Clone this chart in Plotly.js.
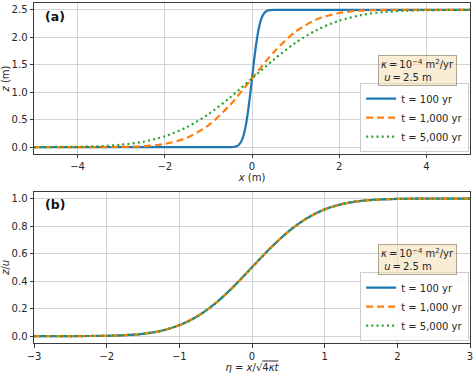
<!DOCTYPE html>
<html>
<head>
<meta charset="utf-8">
<script src="https://cdn.plot.ly/plotly-3.0.1.min.js"></script>
<style>html,body{margin:0;padding:0;background:#fff;}#chart{width:474px;height:375px;}</style>
</head>
<body>
<div id="chart"></div>
<script>
// ---- Data ----
const seriesNames = ["t = 100 yr", "t = 1,000 yr", "t = 5,000 yr"];

// Panel (a): z (m) versus x (m)
const x100 = [-5, -1, -0.6, -0.5, -0.4, -0.35, -0.3, -0.25, -0.2, -0.15, -0.1, -0.05, 0, 0.05, 0.1, 0.15, 0.2, 0.25, 0.3, 0.35, 0.4, 0.5, 0.6, 1, 5];
const z100 = [0, 0, 0, 0.0005, 0.006, 0.0166, 0.042, 0.096, 0.197, 0.361, 0.599, 0.905, 1.25, 1.595, 1.901, 2.139, 2.303, 2.404, 2.458, 2.483, 2.494, 2.4995, 2.5, 2.5, 2.5];
const x1000 = [-5, -4, -3.5, -3, -2.5, -2, -1.5, -1, -0.5, 0, 0.5, 1, 1.5, 2, 2.5, 3, 3.5, 4, 5];
const z1000 = [0, 0.0001, 0.0006, 0.0034, 0.0152, 0.0569, 0.167, 0.397, 0.771, 1.25, 1.729, 2.103, 2.333, 2.443, 2.485, 2.497, 2.4994, 2.4999, 2.5];
const x5000 = [-5, -4, -3.5, -3, -2.5, -2, -1.5, -1, -0.5, 0, 0.5, 1, 1.5, 2, 2.5, 3, 3.5, 4, 5];
const z5000 = [0.0005, 0.0058, 0.0166, 0.0424, 0.0964, 0.197, 0.361, 0.599, 0.905, 1.25, 1.595, 1.901, 2.139, 2.303, 2.404, 2.458, 2.483, 2.494, 2.4995];

// Panel (b): z/u versus eta
const eta = [-3, -2.5, -2, -1.75, -1.5, -1.25, -1, -0.75, -0.5, -0.25, 0, 0.25, 0.5, 0.75, 1, 1.25, 1.5, 1.75, 2, 2.5, 3];
const zu100 = [0.00001, 0.0002, 0.0023, 0.0067, 0.0169, 0.0386, 0.0786, 0.1444, 0.2398, 0.3618, 0.5, 0.6382, 0.7602, 0.8556, 0.9214, 0.9614, 0.9831, 0.9933, 0.9977, 0.9998, 1.0];
const zu1000 = [0.00001, 0.0002, 0.0023, 0.0067, 0.0169, 0.0386, 0.0786, 0.1444, 0.2398, 0.3618, 0.5, 0.6382, 0.7602, 0.8556, 0.9214, 0.9614, 0.9831, 0.9933, 0.9977, 0.9998, 1.0];
const zu5000 = [0.00001, 0.0002, 0.0023, 0.0067, 0.0169, 0.0386, 0.0786, 0.1444, 0.2398, 0.3618, 0.5, 0.6382, 0.7602, 0.8556, 0.9214, 0.9614, 0.9831, 0.9933, 0.9977, 0.9998, 1.0];

const xTicksA = [-4, -2, 0, 2, 4];
const xTicksB = [-3, -2, -1, 0, 1, 2, 3];

// ---- Styles ----
const colors = ["#1f77b4", "#ff7f0e", "#2ca02c"];
const dashes = ["solid", "7px,4px", "2px,3.2px"];
const FONT = "DejaVu Sans, sans-serif";
const TXT = "#262626";

function line(i) {
  return {color: colors[i], width: 2.2, dash: dashes[i], shape: "spline", smoothing: 0.8};
}

const traces = [
  {x: x100, y: z100, name: seriesNames[0], line: line(0), xaxis: "x", yaxis: "y", legend: "legend", mode: "lines"},
  {x: x1000, y: z1000, name: seriesNames[1], line: line(1), xaxis: "x", yaxis: "y", legend: "legend", mode: "lines"},
  {x: x5000, y: z5000, name: seriesNames[2], line: line(2), xaxis: "x", yaxis: "y", legend: "legend", mode: "lines"},
  {x: eta, y: zu100, name: seriesNames[0], line: line(0), xaxis: "x2", yaxis: "y2", legend: "legend2", mode: "lines"},
  {x: eta, y: zu1000, name: seriesNames[1], line: line(1), xaxis: "x2", yaxis: "y2", legend: "legend2", mode: "lines"},
  {x: eta, y: zu5000, name: seriesNames[2], line: line(2), xaxis: "x2", yaxis: "y2", legend: "legend2", mode: "lines"}
];

const axisBase = {
  showline: true, mirror: true, linecolor: "#3a3a3a", linewidth: 1,
  ticks: "outside", ticklen: 3.5, tickwidth: 1, tickcolor: "#3a3a3a",
  showgrid: true, gridcolor: "#d3d3d3", gridwidth: 1,
  zeroline: false,
  tickfont: {family: FONT, size: 10, color: TXT},
  automargin: false
};

const boxText = "<i>κ</i>\u2009=\u200910<sup>−4</sup> m<sup>2</sup>/yr<br> <i>u</i>\u2009=\u20092.5 m";
function infoBox(xr, yr, yv) {
  return {
    xref: xr + " domain", yref: yr + " domain", x: 0.879, y: yv,
    xanchor: "center", yanchor: "middle", showarrow: false, align: "left",
    text: boxText, font: {family: FONT, size: 10, color: TXT},
    bgcolor: "rgba(245,222,179,0.55)", bordercolor: "rgba(120,110,90,0.6)", borderwidth: 1, borderpad: 2
  };
}
function panelLabel(t, xr, yr) {
  return {
    xref: xr + " domain", yref: yr + " domain", x: 0.02, y: 0.975,
    xanchor: "left", yanchor: "top", showarrow: false,
    text: "<b>" + t + "</b>", font: {family: FONT, size: 12.5, color: "#111"}
  };
}

const legendBase = {
  bgcolor: "rgba(255,255,255,0.85)", bordercolor: "#cccccc", borderwidth: 1,
  font: {family: FONT, size: 10, color: TXT},
  xanchor: "right", yanchor: "bottom", tracegroupgap: 0, itemwidth: 30
};

const layout = {
  width: 474, height: 375,
  margin: {l: 34, r: 4, t: 3, b: 32},
  paper_bgcolor: "#ffffff", plot_bgcolor: "#ffffff",
  showlegend: true,
  xaxis: Object.assign({}, axisBase, {
    domain: [0, 1], anchor: "y", range: [-5, 5], tickvals: xTicksA,
    title: {text: "<i>x</i> (m)", font: {family: FONT, size: 10, color: TXT}, standoff: 2}
  }),
  yaxis: Object.assign({}, axisBase, {
    domain: [0.556, 1], anchor: "x", range: [-0.125, 2.625], dtick: 0.5, tick0: 0, tickformat: ".1f",
    title: {text: "<i>z</i> (m)", font: {family: FONT, size: 10, color: TXT}, standoff: 6}
  }),
  xaxis2: Object.assign({}, axisBase, {
    domain: [0, 1], anchor: "y2", range: [-3, 3], tickvals: xTicksB,
    title: {text: "<i>η</i> = <i>x</i>/√<span style=\"text-decoration:overline\">4<i>κt</i></span>", font: {family: FONT, size: 10, color: TXT}, standoff: 2}
  }),
  yaxis2: Object.assign({}, axisBase, {
    domain: [0, 0.445], anchor: "x2", range: [-0.05, 1.05], dtick: 0.2, tick0: 0, tickformat: ".1f",
    title: {text: "<i>z</i>/<i>u</i>", font: {family: FONT, size: 10, color: TXT}, standoff: 6}
  }),
  legend: Object.assign({}, legendBase, {x: 0.998, y: 0.556 + 0.012 * 0.444}),
  legend2: Object.assign({}, legendBase, {x: 0.998, y: 0.012 * 0.445}),
  annotations: [
    panelLabel("(a)", "x", "y"),
    panelLabel("(b)", "x2", "y2"),
    infoBox("x", "y", 0.55),
    infoBox("x2", "y2", 0.55)
  ]
};

Plotly.newPlot("chart", traces, layout, {displayModeBar: false, staticPlot: true});
</script>
</body>
</html>
